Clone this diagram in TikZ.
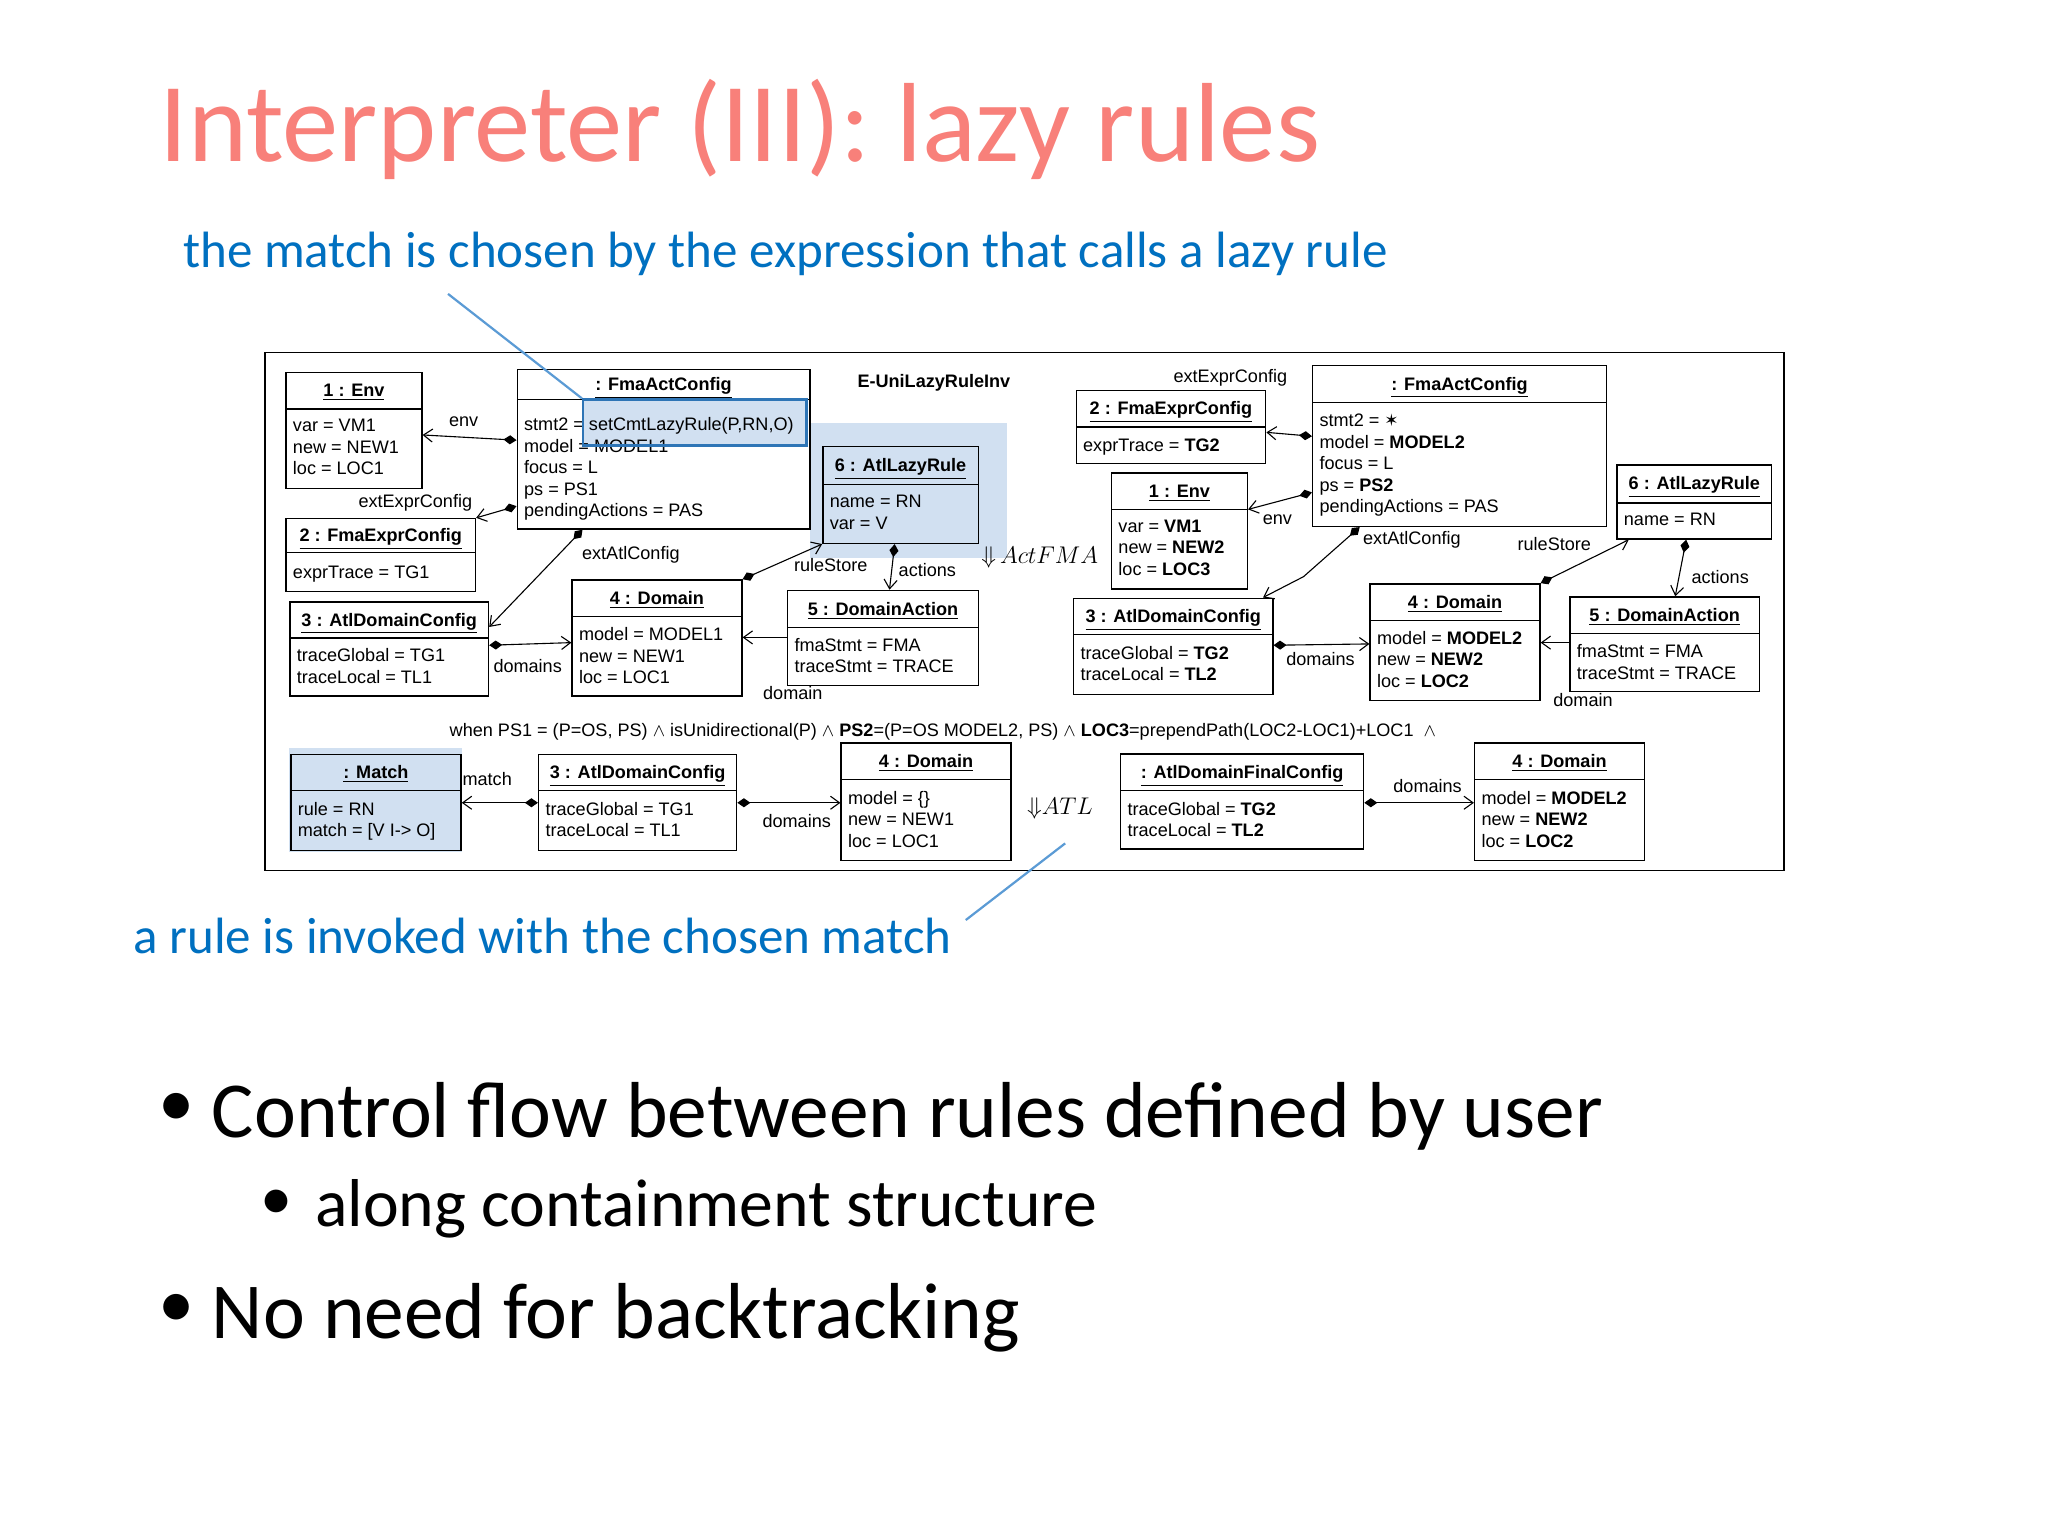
\documentclass[tikz,border=0pt]{standalone}
\usepackage{fontspec}
\usetikzlibrary{arrows.meta,fit}
\newfontfamily\carlito{Carlito}
\newfontfamily\lsans{Liberation Sans}
\newfontfamily\djv{DejaVu Sans}
\definecolor{titlered}{RGB}{248,128,122}
\definecolor{noteblue}{RGB}{0,112,192}
\definecolor{lineblue}{RGB}{91,155,213}
\definecolor{hlfill}{RGB}{209,224,241}
\definecolor{hlborder}{RGB}{46,117,182}
\newcommand\dfont{\lsans\fontsize{9}{10.7}\selectfont}
\newcommand\dbfont{\lsans\bfseries\fontsize{9}{10.7}\selectfont}
% #1 name, #2 x1, #3 y1, #4 x2, #5 y2, #6 divider y, #7 title, #8 attributes, #9 first line centre y
\newcommand\umlobj[9]{%
  \node[objbox, fit={(#2,#3) (#4,#5)}] (#1) {};
  \draw[objline] (#2,#6) -- (#4,#6);
  \node[objtitle] (#1-t) at ({(#2+#4)/2},{(#3+#6)/2+4.6}) {\underline{#7}};
  \foreach \ln [count=\i from 0] in {#8} {
    \node[objattr] (#1-a\i) at ({#2+5},{#9+4.6+16.5*\i}) {\ln};
  }%
}
\begin{document}
\begin{tikzpicture}[x=0.65pt,y=-0.65pt,
  objbox/.style={draw, line width=0.7pt, inner sep=0pt},
  objline/.style={line width=0.7pt},
  objtitle/.style={anchor=base, inner sep=0pt, font=\dbfont},
  objattr/.style={anchor=base west, inner sep=0pt, font=\dfont},
  lab/.style={anchor=base, inner sep=0pt, font=\dfont},
  conn/.style={line width=0.55pt, {Diamond[length=6.5pt,width=4.5pt]}-{Straight Barb[length=4.5pt,width=6.5pt]}},
  plainconn/.style={line width=0.55pt, -{Straight Barb[length=4.5pt,width=6.5pt]}},
  note/.style={anchor=base west, inner sep=0pt, text=noteblue, font=\carlito\fontsize{25.4}{30}\selectfont},
  callout/.style={draw=lineblue, line width=1.1pt},
  bul/.style={anchor=center, inner sep=0pt},
  btext/.style={anchor=base west, inner sep=0pt}
]
\useasboundingbox (0,0) rectangle (1568,1176);
\fill[white] (0,0) rectangle (1568,1176);

% title and notes
\node[anchor=base west, inner sep=0pt, text=titlered, font=\carlito\fontsize{56}{60}\selectfont] (title) at (122,123.3) {Interpreter (III): lazy rules};
\node[note] (note1) at (140,205) {the match is chosen by the expression that calls a lazy rule};
\node[note] (note2) at (102,730) {a rule is invoked with the chosen match};

% diagram frame
\node[draw, line width=0.7pt, inner sep=0pt, fit={(203,270) (1366,666.5)}] (frame) {};

% highlight regions
\fill[hlfill] (620,324) rectangle (771,427);
\fill[hlfill] (221,573) rectangle (354,652);
\fill[hlfill] (446.5,306) rectangle (617.5,341);

\node[font=\dbfont, inner sep=0pt, anchor=base] (rulename) at (715,296.6) {E-UniLazyRuleInv};

% ---------- left configuration ----------
\umlobj{env1}{219}{285}{323}{374}{313}{1 : Env}{var = VM1, new = NEW1, loc = LOC1}{326}
\umlobj{fac1}{396}{283}{620}{405}{306}{: FmaActConfig}{{stmt2 = setCmtLazyRule(P,RN,O)}, model = MODEL1, focus = L, ps = PS1, pendingActions = PAS}{325}
\umlobj{fec1}{219}{397}{364}{453}{423}{2 : FmaExprConfig}{exprTrace = TG1}{438}
\umlobj{adc1}{222}{461}{374}{533}{488.5}{3 : AtlDomainConfig}{traceGlobal = TG1, traceLocal = TL1}{502}
\umlobj{dom1}{438}{444}{568}{533}{472}{4 : Domain}{model = MODEL1, new = NEW1, loc = LOC1}{486}
\umlobj{da1}{603}{452}{749}{525}{480.5}{5 : DomainAction}{fmaStmt = FMA, traceStmt = TRACE}{494}
\umlobj{lr1}{630}{342}{749}{416}{371}{6 : AtlLazyRule}{name = RN, var = V}{384}

\draw[conn] (fac1.west |- 0,337) -- (env1.east |- 0,333);
\draw[conn] (fac1.west |- 0,387.5) -- (fec1.north east);
\draw[conn] (fac1.south -| 446,0) -- (adc1.east |- 0,480);
\draw[conn] (adc1.east |- 0,494) -- (dom1.west |- 0,492);
\draw[conn] (dom1.north east) -- (lr1.south west);
\draw[conn] (lr1.south -| 685,0) -- (da1.north -| 681,0);
\draw[plainconn] (da1.west |- 0,488) -- (dom1.east |- 0,488);

\node[lab] (l-env1) at (355,326.6) {env};
\node[lab] (l-eec1) at (318,388.6) {extExprConfig};
\node[lab] (l-eac1) at (483,428.6) {extAtlConfig};
\node[lab] (l-dms1) at (404,514.6) {domains};
\node[lab] (l-rs1) at (636,437.6) {ruleStore};
\node[lab] (l-act1) at (710,441.6) {actions};
\node[lab] (l-dm1) at (607,535.6) {domain};
\node[anchor=base west, inner sep=0pt, font=\fontsize{11.5}{13}\selectfont] (actfma) at (751,431.5) {${\Downarrow}\,ActFMA$};

% ---------- right configuration ----------
\umlobj{fec2}{824}{299}{969}{355}{327}{2 : FmaExprConfig}{exprTrace = \textbf{TG2}}{341}
\umlobj{env2}{851}{362}{955}{451}{390}{1 : Env}{var = \textbf{VM1}, new = \textbf{NEW2}, loc = \textbf{LOC3}}{403}
\umlobj{adc2}{822}{458}{974.5}{531.5}{486}{3 : AtlDomainConfig}{traceGlobal = \textbf{TG2}, traceLocal = \textbf{TL2}}{500}
\umlobj{fac2}{1005}{280}{1230}{403}{308}{: FmaActConfig}{stmt2 = {\djv\fontsize{8.5}{10}\selectfont ✶}, model = \textbf{MODEL2}, focus = L, ps = \textbf{PS2}, pendingActions = PAS}{322}
\umlobj{lr2}{1238}{356}{1356.5}{412.7}{385}{6 : AtlLazyRule}{name = RN}{398}
\umlobj{dom2}{1049}{447}{1179}{536.5}{475}{4 : Domain}{model = \textbf{MODEL2}, new = \textbf{NEW2}, loc = \textbf{LOC2}}{488.6}
\umlobj{da2}{1202}{457}{1347}{529.6}{485}{5 : DomainAction}{fmaStmt = FMA, traceStmt = TRACE}{499}

\draw[conn] (fac2.west |- 0,334) -- (fec2.east |- 0,331);
\draw[conn] (fac2.west |- 0,377) -- (env2.east |- 0,390);
\draw[conn] (fac2.south -| 1041,0) -- (998,441.5) -- (adc2.north -| 967,0);
\draw[conn] (dom2.north east) -- (lr2.south -| 1247,0);
\draw[conn] (lr2.south -| 1291,0) -- (da2.north -| 1282.6,0);
\draw[conn] (adc2.east |- 0,494) -- (dom2.west |- 0,493);
\draw[plainconn] (da2.west |- 0,492) -- (dom2.east |- 0,492);

\node[lab] (l-eec2) at (942,292.6) {extExprConfig};
\node[lab] (l-env2) at (978,401.6) {env};
\node[lab] (l-eac2) at (1081,416.6) {extAtlConfig};
\node[lab] (l-rs2) at (1190,421.6) {ruleStore};
\node[lab] (l-act2) at (1317,446.6) {actions};
\node[lab] (l-dms2) at (1011,509.6) {domains};
\node[lab] (l-dm2) at (1212,540.6) {domain};

% ---------- condition ----------
\node[anchor=base west, inner sep=0pt, font=\dfont] (cond) at (344,563.6) {when PS1 = (P=OS, PS) $\wedge$ isUnidirectional(P) $\wedge$ \textbf{PS2}=(P=OS MODEL2, PS) $\wedge$ \textbf{LOC3}=prependPath(LOC2-LOC1)+LOC1\ \ $\wedge$};

% ---------- bottom row ----------
\umlobj{match}{222.7}{577.6}{353}{651}{605.4}{: Match}{rule = RN, match = [V I-> O]}{619.6}
\umlobj{adc3}{412.4}{577.6}{564}{651}{605.4}{3 : AtlDomainConfig}{traceGlobal = TG1, traceLocal = TL1}{619.6}
\umlobj{dom3}{644}{569}{774}{659}{597}{4 : Domain}{model = \{\}, new = NEW1, loc = LOC1}{611}
\umlobj{adfc}{858}{577.4}{1044}{650}{605.4}{: AtlDomainFinalConfig}{traceGlobal = \textbf{TG2}, traceLocal = \textbf{TL2}}{619.6}
\umlobj{dom4}{1129}{569}{1259}{659}{597}{4 : Domain}{model = \textbf{MODEL2}, new = \textbf{NEW2}, loc = \textbf{LOC2}}{611}

\draw[conn] (adc3.west |- 0,614.6) -- (match.east |- 0,614.6);
\draw[conn] (adc3.east |- 0,614.6) -- (dom3.west |- 0,614.6);
\draw[conn] (adfc.east |- 0,614.6) -- (dom4.west |- 0,614.6);

\node[lab] (l-match) at (373,601.6) {match};
\node[lab] (l-dms3) at (610,633.6) {domains};
\node[lab] (l-dms4) at (1093,606.6) {domains};
\node[anchor=base west, inner sep=0pt, font=\fontsize{12.5}{14}\selectfont] (atl) at (786,623.5) {${\Downarrow}ATL$};

% highlight border of the lazy rule call
\node[fit={(446.5,306) (617.5,341)}, inner sep=0pt, draw=hlborder, line width=1.3pt] (hl) {};

% callout lines
\coordinate (c1) at (343,225);
\draw[callout] (c1) -- (hl.north west);
\coordinate (c2) at (815.5,645.7);
\coordinate (c3) at (739.4,704.4);
\draw[callout] (c2) -- (c3);

% bullets
\node[bul, font=\carlito\fontsize{36}{40}\selectfont] (b1) at (135,850) {•};
\node[btext, font=\carlito\fontsize{39.5}{44}\selectfont] (t1) at (162,870.7) {Control flow between rules defined by user};
\node[bul, font=\carlito\fontsize{32}{36}\selectfont] (b2) at (211.5,922.7) {•};
\node[btext, font=\carlito\fontsize{33.7}{38}\selectfont] (t2) at (241,939) {along containment structure};
\node[bul, font=\carlito\fontsize{36}{40}\selectfont] (b3) at (135,1003.6) {•};
\node[btext, font=\carlito\fontsize{39.5}{44}\selectfont] (t3) at (162,1024.6) {No need for backtracking};
\end{tikzpicture}
\end{document}
